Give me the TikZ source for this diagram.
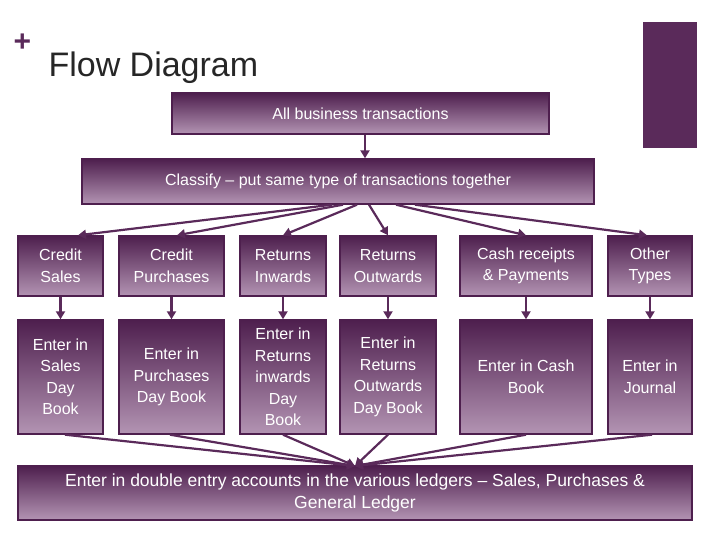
\documentclass[tikz,border=0pt]{standalone}
\usepackage{fontspec}
\setmainfont{Liberation Sans}
\usetikzlibrary{arrows.meta}
\definecolor{dp}{HTML}{4E1F4E}
\definecolor{lp}{HTML}{B394B3}
\definecolor{ap}{HTML}{5A2A5A}
\begin{document}
\begin{tikzpicture}[x=1pt,y=-1pt,
 box/.style={draw=dp,line width=1.4pt,top color=dp,bottom color=lp,text=white,font=\fontsize{16}{21.5}\selectfont,align=center,inner sep=0pt},
 arr/.style={draw=ap,line width=2.2pt,-{Triangle[length=8pt,width=9pt]}}]
\useasboundingbox (0,0) rectangle (720,540);
\node[anchor=base west,text=ap,font=\bfseries\fontsize{30}{30}\selectfont] at (10,52) {+};
\node[anchor=base west,text=black!85,font=\fontsize{34}{34}\selectfont] at (45,77) {Flow Diagram};
\fill[ap] (643,22) rectangle (697,148);
\newcommand{\bx}[6]{\node[box,minimum width={#4-#2},minimum height={#5-#3}] (#1) at ({(#2+#4)/2},{(#3+#5)/2}) {#6};}
\bx{top}{172}{93}{549}{134}{All business transactions}
\bx{cls}{82}{159}{594}{204}{Classify -- put same type of transactions together}
\bx{a1}{18}{236}{103}{296}{Credit\\Sales}
\bx{b1}{119}{236}{224}{296}{Credit\\Purchases}
\bx{c1}{240}{236}{326}{296}{Returns\\Inwards}
\bx{d1}{340}{236}{436}{296}{Returns\\Outwards}
\bx{e1}{460}{236}{592}{296}{Cash receipts\\\& Payments}
\bx{f1}{608}{236}{692}{296}{Other\\Types}
\bx{a2}{18}{320}{103}{434}{Enter in\\Sales\\Day\\Book}
\bx{b2}{119}{320}{224}{434}{Enter in\\Purchases\\Day Book}
\bx{c2}{240}{320}{326}{434}{Enter in\\Returns\\inwards\\Day\\Book}
\bx{d2}{340}{320}{436}{434}{Enter in\\Returns\\Outwards\\Day Book}
\bx{e2}{460}{320}{592}{434}{Enter in Cash\\Book}
\bx{f2}{608}{320}{692}{434}{Enter in\\Journal}
\node[box,font=\fontsize{17.5}{22}\selectfont,minimum width=674,minimum height=54] (bot) at (355,493) {Enter in double entry accounts in the various ledgers -- Sales, Purchases \&\\General Ledger};
\draw[arr] (top.south -| 365,0) -- (cls.north -| 365,0);
\draw[arr] (cls.south -| 332,0) -- (a1.north -| 78,0);
\draw[arr] (cls.south -| 343,0) -- (b1.north -| 177,0);
\draw[arr] (cls.south -| 357,0) -- (c1.north);
\draw[arr] (cls.south -| 369,0) -- (d1.north);
\draw[arr] (cls.south -| 396,0) -- (e1.north);
\draw[arr] (cls.south -| 415,0) -- (f1.north -| 647,0);
\foreach \n in {a,b,c,d,e,f} {\draw[arr] (\n1.south) -- (\n2.north);}
\coordinate (m) at (355,466);
\draw[arr] (a2.south -| 65,0) -- (m);
\draw[arr] (b2.south -| 170,0) -- (m);
\draw[arr] (c2.south) -- (m);
\draw[arr] (d2.south) -- (m);
\draw[arr] (e2.south) -- (m);
\draw[arr] (f2.south -| 652,0) -- (m);
\end{tikzpicture}
\end{document}
